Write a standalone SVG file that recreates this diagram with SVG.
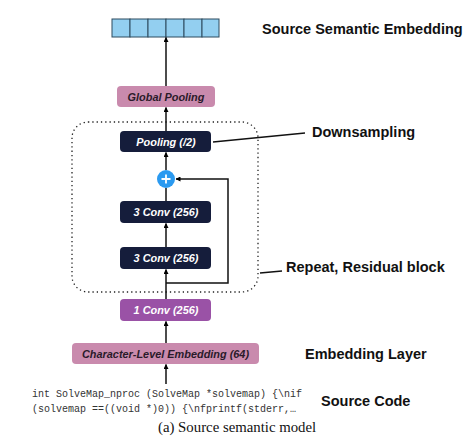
<svg xmlns="http://www.w3.org/2000/svg" width="474" height="444" viewBox="0 0 474 444">
<defs>
<marker id="ah" viewBox="0 0 10 10" refX="9" refY="5" markerWidth="5" markerHeight="5" orient="auto" markerUnits="userSpaceOnUse">
<path d="M0,0 L10,5 L0,10 z" fill="#000"/>
</marker>
<style>
.box{stroke:none}
.pink{fill:#c98aad}
.navy{fill:#151d3b}
.purple{fill:#9a52a6}
.bt{font-family:"Liberation Sans",Arial,sans-serif;font-weight:bold;font-style:italic;font-size:10.9px;text-anchor:middle}
.w{fill:#fff}
.d{fill:#2a1a2a}
.lbl{font-family:"Liberation Sans",Arial,sans-serif;font-weight:bold;font-size:14.5px;fill:#111}
.code{font-family:"Liberation Mono","DejaVu Sans Mono",monospace;font-size:10px;fill:#333}
.conn{stroke:#111;stroke-width:1.5;fill:none}
.cell{fill:#93cff0;stroke:#2c4b5e;stroke-width:1}
</style>
</defs>
<rect width="474" height="444" fill="#fff"/>

<g id="embedding-vector">
<rect class="cell" x="112" y="19" width="18" height="18"/>
<rect class="cell" x="130" y="19" width="18" height="18"/>
<rect class="cell" x="148" y="19" width="18" height="18"/>
<rect class="cell" x="166" y="19" width="18" height="18"/>
<rect class="cell" x="184" y="19" width="18" height="18"/>
<rect class="cell" x="202" y="19" width="17" height="18"/>
</g>

<g id="residual-block">
<rect x="72" y="122" width="186" height="170" rx="16" fill="none" stroke="#222" stroke-width="1.3" stroke-dasharray="1.3 3"/>
</g>

<g id="connectors">
<line class="conn" x1="166" y1="384" x2="166" y2="364.5" marker-end="url(#ah)"/>
<line class="conn" x1="166" y1="343" x2="166" y2="321.5" marker-end="url(#ah)"/>
<line class="conn" x1="166" y1="299" x2="166" y2="269.5" marker-end="url(#ah)"/>
<line class="conn" x1="166" y1="247" x2="166" y2="223.5" marker-end="url(#ah)"/>
<line class="conn" x1="166" y1="201" x2="166" y2="188"/>
<line class="conn" x1="166" y1="170" x2="166" y2="152.5" marker-end="url(#ah)"/>
<line class="conn" x1="166" y1="131" x2="166" y2="107.5" marker-end="url(#ah)"/>
<line class="conn" x1="166" y1="86" x2="166" y2="37.5" marker-end="url(#ah)"/>
<polyline class="conn" points="166,283 228,283 228,179 176,179" marker-end="url(#ah)"/>
<line class="conn" x1="213" y1="142" x2="305" y2="133" stroke-width="1.2"/>
<line class="conn" x1="260" y1="273" x2="282" y2="271" stroke-width="1.2"/>
</g>

<g id="global-pooling">
<rect class="box pink" x="117" y="86" width="98" height="21" rx="4"/>
<text class="bt d" x="166" y="100.5">Global Pooling</text>
</g>

<g id="pooling">
<rect class="box navy" x="120" y="131" width="91" height="21" rx="4"/>
<text class="bt w" x="166" y="145.5">Pooling (/2)</text>
</g>

<g id="add">
<circle cx="166" cy="179" r="9" fill="#2b9af0"/>
<path d="M161.5,179 H170.5 M166,174.5 V183.5" stroke="#fff" stroke-width="1.8"/>
</g>

<g id="conv3-top">
<rect class="box navy" x="120" y="201" width="91" height="22" rx="4"/>
<text class="bt w" x="166" y="215.8">3 Conv (256)</text>
</g>

<g id="conv3-bottom">
<rect class="box navy" x="120" y="247" width="91" height="22" rx="4"/>
<text class="bt w" x="166" y="261.8">3 Conv (256)</text>
</g>

<g id="conv1">
<rect class="box purple" x="120" y="299" width="91" height="22" rx="4"/>
<text class="bt w" x="166" y="313.8">1 Conv (256)</text>
</g>

<g id="char-embedding">
<rect class="box pink" x="72" y="343" width="187" height="21" rx="4"/>
<text class="bt d" x="165.5" y="357.5">Character-Level Embedding (64)</text>
</g>

<g id="source-code">
<text class="code" x="32" y="397">int SolveMap_nproc (SolveMap *solvemap) {\nif</text>
<text class="code" x="32" y="412">(solvemap ==((void *)0)) {\nfprintf(stderr,…</text>
</g>

<g id="labels">
<text class="lbl" x="262" y="34">Source Semantic Embedding</text>
<text class="lbl" x="312" y="137">Downsampling</text>
<text class="lbl" x="286" y="272">Repeat, Residual block</text>
<text class="lbl" x="305" y="359">Embedding Layer</text>
<text class="lbl" x="321" y="406">Source Code</text>
</g>

<text x="158" y="432" font-family="'Liberation Serif','Times New Roman',serif" font-size="14.8" fill="#111">(a) Source semantic model</text>
</svg>
